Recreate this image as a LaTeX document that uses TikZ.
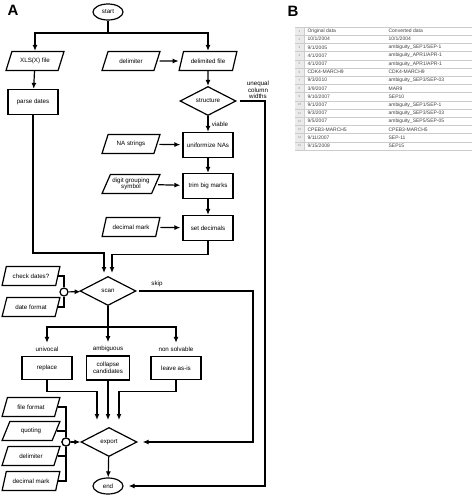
\documentclass[tikz,border=0pt]{standalone}
\usepackage{fontspec}
\setmainfont{Liberation Sans}
\usetikzlibrary{shapes.geometric,arrows.meta}

\tikzset{
  data/.style={draw, trapezium, trapezium left angle=60, trapezium right angle=120,
    trapezium stretches=true, minimum width=58, minimum height=19, inner sep=0.5pt, align=center},
  process/.style={draw, rectangle, minimum width=50, minimum height=25, inner sep=1pt, align=center},
  decide/.style={draw, diamond, aspect=1.9, minimum width=56, minimum height=29, inner sep=0pt},
  terminal/.style={draw, ellipse, minimum width=30, minimum height=16, inner sep=0pt},
  junction/.style={draw, circle, fill=white, minimum size=8, inner sep=0pt},
  arrow/.style={-{Latex[length=6pt,width=5pt]}},
  panel/.style={font=\bfseries\fontsize{15}{15}\selectfont},
  cell/.style={anchor=west, text=black!75, font=\fontsize{5}{5}\selectfont, inner sep=0pt},
}

\begin{document}
\begin{tikzpicture}[x=1pt, y=-1pt, line width=1.2pt, font=\fontsize{6.2}{6.6}\selectfont]
    \useasboundingbox (0,0) rectangle (474,496);

    \node[panel] (labA) at (13,10) {A};
    \node[panel] (labB) at (293,11) {B};

    % left panel: the flow chart
    \node[terminal] (start) at (108,12) {start};
    \node[data] (xls) at (35,61) {XLS(X) file};
    \node[data] (delim) at (131,61) {delimiter};
    \node[data] (dfile) at (208,61) {delimited file};
    \node[process] (parse) at (33,102) {parse dates};
    \node[decide] (struct) at (208,101) {structure};
    \node[align=center] (uneq) at (258,90) {unequal\\column\\widths};
    \node[data] (nastr) at (131,144) {NA strings};
    \node[process] (unif) at (208,145) {uniformize NAs};
    \node[data] (digit) at (131,184) {digit grouping\\symbol};
    \node[process] (trim) at (208,186) {trim big marks};
    \node[data] (decmark) at (131,227) {decimal mark};
    \node[process] (setdec) at (208,228) {set decimals};

    \node[decide] (scan) at (108,291) {scan};
    \node[data] (chk) at (31,276) {check dates?};
    \node[data] (datefmt) at (31,307) {date format};
    \node[junction] (join1) at (64,292) {};
    \node (skip) at (157,284) {skip};

    \node (univ) at (47,349) {univocal};
    \node (amb) at (108,349) {ambiguous};
    \node (nonsolv) at (176,349) {non solvable};
    \node[process, minimum height=23] (replace) at (47,368) {replace};
    \node[process, minimum width=43, minimum height=24] (collapse) at (108,368) {collapse\\candidates};
    \node[process, minimum height=23] (leave) at (176,368) {leave as-is};

    \node[decide] (export) at (109,442) {export};
    \node[data] (filefmt) at (31,407) {file format};
    \node[data] (quoting) at (31,431) {quoting};
    \node[data] (delim2) at (31,456) {delimiter};
    \node[data] (decmark2) at (31,481) {decimal mark};
    \node[junction] (join2) at (66,442) {};
    \node[terminal] (end) at (108,486) {end};

    \coordinate (split) at (108,33);
    \coordinate (inL) at (104,273);
    \coordinate (inR) at (112,273);
    \coordinate (fork) at (108,327);
    \coordinate (exL) at (97,420);
    \coordinate (exM) at (108,420);
    \coordinate (exR) at (119,420);

    \draw (start) -- (split);
    \draw[arrow] (split) -| (xls);
    \draw[arrow] (split) -| (dfile);
    \draw[arrow] (xls) -- (parse);
    \draw[arrow, shorten <=2pt, shorten >=2pt] (delim) -- (dfile);
    \draw[arrow] (dfile) -- (struct);
    \draw[arrow] (struct) -- node[right] {viable} (unif);
    \draw[arrow, shorten <=2pt, shorten >=2pt] (nastr) -- (unif);
    \draw[arrow] (unif) -- (trim);
    \draw[arrow, shorten <=2pt, shorten >=2pt] (digit) -- (trim);
    \draw[arrow] (trim) -- (setdec);
    \draw[arrow, shorten <=2pt, shorten >=2pt] (decmark) -- (setdec);

    \draw[arrow] (setdec.south) -- ++(0,13) -| (inR);
    \draw[arrow] (parse.south) -- (parse.south |- 0,253) -| (inL);

    \draw (chk.east) -| (join1.north);
    \draw (datefmt.east) -| (join1.south);
    \draw[arrow] (join1) -- (scan);

    \draw[arrow, shorten <=3pt, shorten >=5pt] (struct.east) -| (265,486) -- (end.east);
    \draw[arrow, shorten <=2pt, shorten >=5pt] (scan.east) -| (253,442) -- (export.east);

    \draw (scan.south) -- (fork);
    \draw[arrow] (fork) -| (univ.north);
    \draw[arrow] (fork) -- (amb.north);
    \draw[arrow] (fork) -| (nonsolv.north);

    \draw[arrow] (replace.south) -- ++(0,11) -| (exL);
    \draw[arrow] (collapse.south) -- (exM);
    \draw[arrow] (leave.south) -- ++(0,11) -| (exR);

    \draw (filefmt.east) -| (join2.north);
    \draw (quoting.east) -- (quoting.east -| join2);
    \draw (delim2.east) -- (delim2.east -| join2);
    \draw (decmark2.east) -| (join2.south);
    \node[junction] at (join2) {};
    \draw[arrow] (join2) -- (export);
    \draw[arrow] (export) -- (end);

    % right panel: the table
    \fill[black!8] (295,26.9) rectangle (304,149.9);
    \foreach \k in {0,...,15}
        \draw[black!20, line width=0.4pt] (295,26.9+8.2*\k) -- (472,26.9+8.2*\k);
    \draw[black!20, line width=0.4pt] (304,26.9) -- (304,149.9);
    \foreach \orig/\conv [count=\i] in {Original data/Converted data,
        {10/1/2004}/{10/1/2004}, {9/1/2005}/{ambiguity\_SEP1/SEP-1},
        {4/1/2007}/{ambiguity\_APR1/APR-1}, {4/1/2007}/{ambiguity\_APR1/APR-1},
        CDK4-MARCH9/CDK4-MARCH9, {9/3/2010}/{ambiguity\_SEP3/SEP-03},
        {3/9/2007}/MAR9, {9/10/2007}/SEP10, {9/1/2007}/{ambiguity\_SEP1/SEP-1},
        {9/3/2007}/{ambiguity\_SEP3/SEP-03}, {9/5/2007}/{ambiguity\_SEP5/SEP-05},
        CPEB3-MARCH5/CPEB3-MARCH5, {9/11/2007}/SEP-11, {9/15/2008}/SEP15} {
        \pgfmathsetmacro\ry{31+8.2*(\i-1)}
        \node[text=black!45, font=\fontsize{3}{3}\selectfont, inner sep=0pt] at (299.5,\ry) {\i};
        \node[cell] at (307,\ry) {\orig};
        \node[cell] at (388,\ry) {\conv};
    }
\end{tikzpicture}
\end{document}
